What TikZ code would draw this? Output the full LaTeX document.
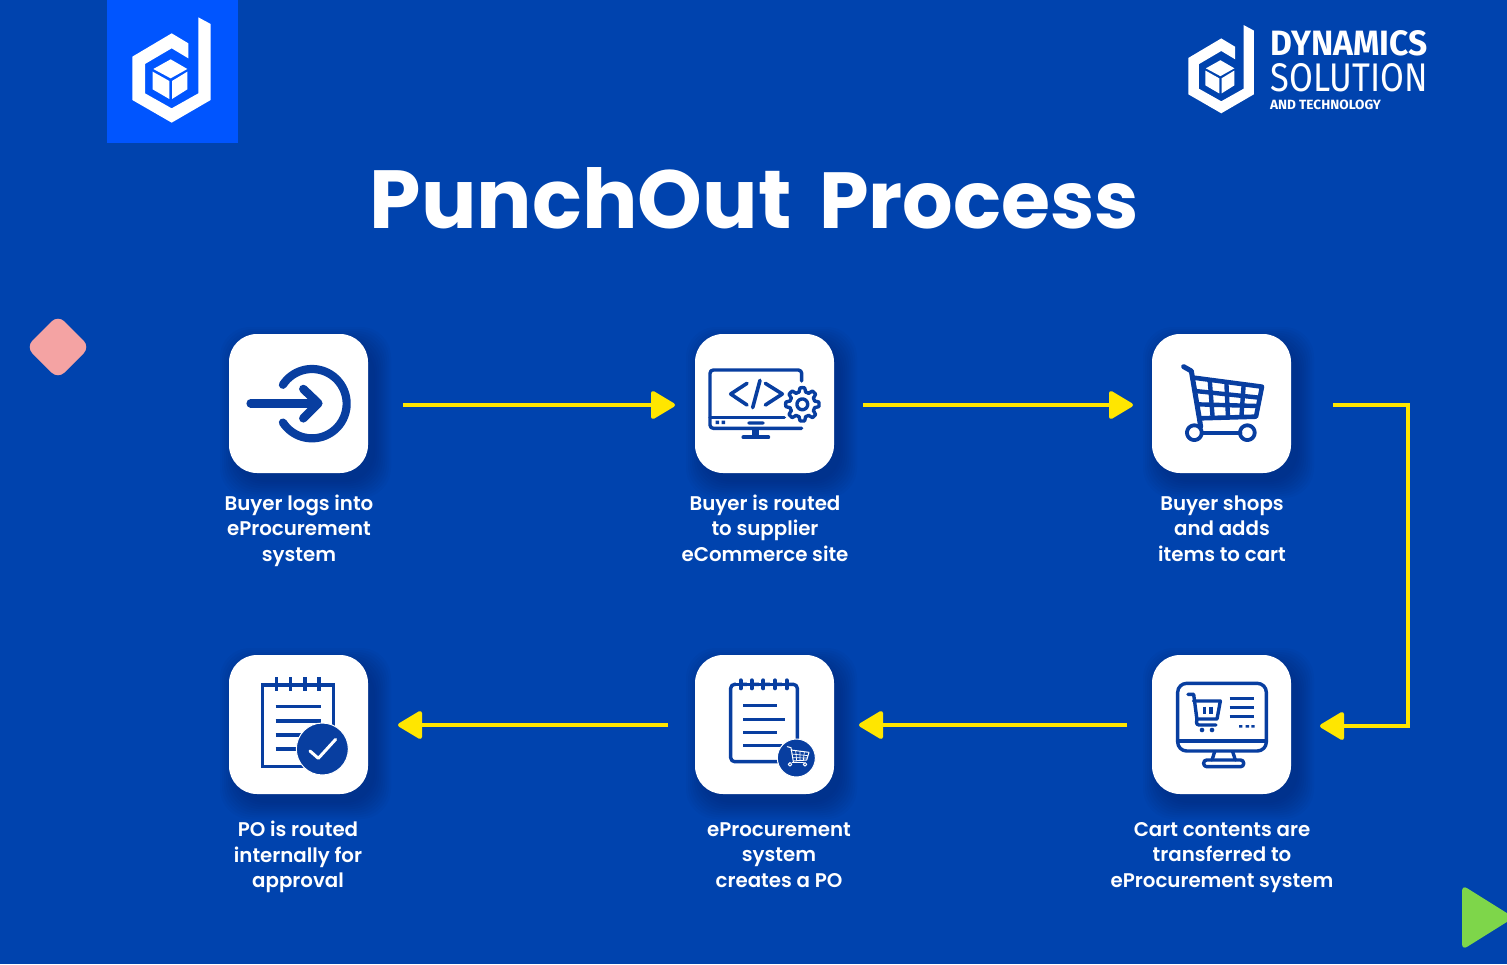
\documentclass[tikz,border=0pt]{standalone}
\usepackage{fontspec}
\usepackage{graphicx}
\usetikzlibrary{arrows.meta}
\setmainfont{Poppins}
\newfontfamily\firaf{Fira Sans}
\newfontfamily\semif{Poppins SemiBold}
\definecolor{bgblue}{RGB}{0,67,174}
\definecolor{logoblue}{RGB}{0,85,255}
\definecolor{icon}{RGB}{8,62,160}
\definecolor{flow}{RGB}{255,230,0}
\definecolor{pinkd}{RGB}{244,163,163}
\definecolor{greent}{RGB}{126,214,74}
\tikzset{
 tile/.style={fill=white,rounded corners=28pt,minimum width=139pt,minimum height=139pt,inner sep=0pt,outer sep=0pt},
 lab/.style={text=white,align=center,font=\fontsize{19.8}{25.5}\selectfont\semif,inner sep=0pt,execute at begin node=\strut,execute at end node=\strut},
 flowline/.style={draw=flow,line width=4pt,-{Triangle[length=26pt,width=30pt,round]}},
 ic/.style={draw=icon,line width=3.4pt,line cap=round,line join=round},
 icw/.style={draw=white,line cap=round,line join=round},
 iconscope/.style={shift={#1},x=0.33333pt,y=-0.33333pt}
}
\newcommand{\softshadow}[2]{%
 \foreach \s in {0,2,...,16}{%
  \fill[black,opacity=.02,rounded corners=30pt] (#1+7-\s,#2+9-\s) rectangle (#1+139+7+\s,#2+139+9+\s);}}
\newcommand{\logomark}[1]{%
 \fill[#1] (295,52)--(332,72)--(332,300)--(215,368)--(97,300)--(97,170)--(215,100)--(265,130)--(265,175)--(215,145)--(135,192)--(135,280)--(215,325)--(295,280)--cycle;
 \fill[#1] (212,178)--(262,207)--(212,235)--(160,207)--cycle;
 \fill[#1] (158,215)--(208,243)--(208,297)--(158,268)--cycle;
 \fill[#1] (216,243)--(262,215)--(262,268)--(216,297)--cycle;}
\begin{document}
\begin{tikzpicture}[x=1pt,y=-1pt]
\useasboundingbox (0,0) rectangle (1507,964);
\fill[bgblue] (0,0) rectangle (1507,964);
\fill[logoblue] (107,0) rectangle (238,143);
\begin{scope}[shift={(100,0)},x=0.33333pt,y=-0.33333pt]\logomark{white}\end{scope}
\begin{scope}[shift={(1161.2,10.5)},x=0.2793pt,y=-0.2793pt]\logomark{white}\end{scope}
\node[text=white,inner sep=0pt] (brandA) at (1349,43) {\resizebox{157pt}{25pt}{\firaf\bfseries DYNAMICS}};
\node[text=white,inner sep=0pt] (brandB) at (1349,78) {\resizebox{157pt}{28pt}{\firaf SOLUTION}};
\node[text=white,inner sep=0pt] (brandC) at (1325.5,105) {\resizebox{111pt}{9.5pt}{\firaf\bfseries AND TECHNOLOGY}};
\node[text=white,inner sep=0pt] (title) at (754.5,198) {\bfseries\fontsize{82.4}{90}\selectfont PunchOut\hspace{10pt} \fontsize{79.5}{90}\selectfont Process};
% decorations
\fill[pinkd,rounded corners=9pt] (58,315)--(90,347)--(58,379)--(26,347)--cycle;
\fill[greent,rounded corners=6pt] (1462,885)--(1514,917.5)--(1462,950)--cycle;
% shadows
\softshadow{229}{334}\softshadow{695}{334}\softshadow{1152}{334}
\softshadow{229}{655}\softshadow{695}{655}\softshadow{1152}{655}
% tiles
\node[tile] (t1) at (298.5,403.5) {};
\node[tile] (t2) at (764.5,403.5) {};
\node[tile] (t3) at (1221.5,403.5) {};
\node[tile] (t4) at (1221.5,724.5) {};
\node[tile] (t5) at (764.5,724.5) {};
\node[tile] (t6) at (298.5,724.5) {};
% labels
\node[lab] (l1) at (299,532) {Buyer logs into\\eProcurement\\system};
\node[lab] (l2) at (765,532) {Buyer is routed\\to supplier\\eCommerce site};
\node[lab] (l3) at (1222,532) {Buyer shops\\and adds\\items to cart};
\node[lab] (l4) at (1222,858.5) {Cart contents are\\transferred to\\eProcurement system};
\node[lab] (l5) at (779,858.5) {eProcurement\\system\\creates a PO};
\node[lab] (l6) at (298,858.5) {PO is routed\\internally for\\approval};
% connectors
\draw[flowline] ([shift={(35,1.5)}]t1.east) -- ([shift={(-20,1.5)}]t2.west);
\draw[flowline] ([shift={(29,1.5)}]t2.east) -- ([shift={(-19,1.5)}]t3.west);
\draw[flowline,line join=miter] ([shift={(42,1.5)}]t3.east) -- ++(75,0) |- ([shift={(29,1.5)}]t4.east);
\draw[flowline] ([shift={(-25,0.5)}]t4.west) -- ([shift={(25,0.5)}]t5.east);
\draw[flowline] ([shift={(-27,0.5)}]t5.west) -- ([shift={(30,0.5)}]t6.east);
% icon 1
\begin{scope}[iconscope={(220,325)}]
 \draw[ic,line width=8.5pt] (92,235) -- (290,235);
 \draw[ic,line width=8.5pt] (250,192) -- (295,235) -- (250,280);
 \draw[ic,line width=8.2pt] plot[domain=213:507,samples=60] ({276+104*cos(\x)},{236+104*sin(\x)});
\end{scope}
% icon 2
\begin{scope}[iconscope={(685,325)}]
 \draw[ic] (350,168) -- (350,145) to[out=90,in=0] (340,135) -- (85,135) to[out=180,in=90] (75,145) -- (75,300) to[out=-90,in=180] (85,310) -- (350,310);
 \draw[ic] (75,278) -- (298,278);
 \fill[icon] (92,287) rectangle (102,297) (110,287) rectangle (120,297);
 \fill[icon,rounded corners=2pt] (187,289) rectangle (239,299);
 \draw[ic,line width=6.5pt,line cap=butt] (212,310) -- (212,335);
 \draw[ic,line width=3.8pt] (175,337) -- (250,337);
 \draw[ic,line width=3.6pt] (186,175) -- (137,207) -- (186,240);
 \draw[ic,line width=3.6pt] (225,166) -- (203,248);
 \draw[ic,line width=3.6pt] (241,175) -- (292,207) -- (241,240);
 \draw[ic,fill=white] plot[domain=0:360,samples=145] ({352+(44+6*max(-1,min(1,2*cos(8*\x))))*cos(\x)},{238+(44+6*max(-1,min(1,2*cos(8*\x))))*sin(\x)}) -- cycle;
 \draw[ic] plot[domain=0:360,samples=50] ({352+16*cos(\x)},{238+16*sin(\x)}) -- cycle;
\end{scope}
% icon 3
\begin{scope}[iconscope={(1142,325)}]
 \draw[ic,line width=5pt] (125,125) -- (148,138) -- (172,280) -- (176,305);
 \draw[ic,line width=4.6pt] (155,158) -- (360,185) -- (342,275) -- (172,280);
 \draw[ic,line width=4.4pt,line cap=butt] (160,198) -- (352,218);
 \draw[ic,line width=4.4pt,line cap=butt] (166,238) -- (346,243);
 \draw[ic,line width=4.4pt,line cap=butt] (203,163) -- (212,278);
 \draw[ic,line width=4.4pt,line cap=butt] (253,170) -- (258,278);
 \draw[ic,line width=4.4pt,line cap=butt] (305,178) -- (298,278);
 \draw[ic,line width=4pt] (180,323) -- (295,323);
 \draw[ic,line width=3.8pt] plot[domain=0:360,samples=40] ({157+22*cos(\x)},{323+22*sin(\x)}) -- cycle;
 \draw[ic,line width=3.8pt] plot[domain=0:360,samples=40] ({316+22*cos(\x)},{323+22*sin(\x)}) -- cycle;
\end{scope}
% icon 4
\begin{scope}[iconscope={(1142,645)}]
 \draw[ic,rounded corners=9pt] (107,115) rectangle (373,318);
 \draw[ic] (107,288) -- (373,288);
 \draw[ic] (218,320) -- (210,345) (272,320) -- (280,345);
 \draw[ic,rounded corners=3pt] (185,345) rectangle (305,365);
 \draw[ic] (138,148) -- (155,148) -- (165,225);
 \draw[ic] (155,168) -- (235,168) -- (225,222) -- (165,222);
 \draw[ic,rounded corners=3pt] (165,222) -- (162,240) -- (222,240);
 \draw[ic,line cap=butt] (188,185) -- (188,207) (207,185) -- (207,207);
 \fill[icon] (180,255) circle[radius=2.3pt] (210,255) circle[radius=2.3pt];
 \draw[ic,line width=3pt,line cap=butt] (263,160) -- (336,160) (263,187) -- (336,187) (263,214) -- (336,214);
 \fill[icon] (291,240) rectangle (301,248) (311,240) rectangle (321,248) (328,240) rectangle (338,248);
\end{scope}
% icon 5
\begin{scope}[iconscope={(685,645)}]
 \draw[ic,rounded corners=4pt] (137,118) rectangle (337,350);
 \foreach \r in {167,200,235,270,305}{
  \fill[white] (\r-14,110) rectangle (\r+4,126);
  \draw[ic,line width=4pt] (\r,106) -- (\r,130);
  \draw[ic,line width=3pt,line cap=butt] (\r-14,118) -- (\r,118);}
 \draw[ic,line width=3pt,line cap=butt] (175,182) -- (277,182) (175,222) -- (300,222) (175,262) -- (277,262) (175,302) -- (290,302);
 \fill[icon,draw=white,line width=1pt] (334,339) circle[radius=19pt];
 \draw[icw,line width=1pt] (307,305) -- (318,308) -- (325,350);
 \draw[icw,line width=1pt] (318,315) -- (372,322) -- (365,345) -- (325,348);
 \draw[icw,line width=.7pt] (320,327) -- (369,332) (322,338) -- (367,339);
 \draw[icw,line width=.7pt] (332,317) -- (335,347) (345,319) -- (345,347) (358,321) -- (355,346);
 \draw[icw,line width=1pt] (321,352) -- (355,352);
 \draw[icw,line width=1pt] (315,358) circle[radius=1.8pt] (360,358) circle[radius=1.8pt];
\end{scope}
% icon 6
\begin{scope}[iconscope={(220,645)}]
 \draw[draw=icon,line width=3.4pt] (127,120) rectangle (340,365);
 \foreach \r in {170,212,255,297}{\draw[draw=icon,line width=3.4pt] (\r,97) -- (\r,137);}
 \draw[draw=icon,line width=3.2pt] (167,185) -- (302,185) (167,228) -- (302,228) (167,270) -- (250,270) (167,312) -- (240,312);
 \fill[icon,draw=white,line width=1pt] (307,312) circle[radius=26pt];
 \draw[icw,line width=3pt] (270,318) -- (295,340) -- (347,283);
\end{scope}
\end{tikzpicture}
\end{document}
